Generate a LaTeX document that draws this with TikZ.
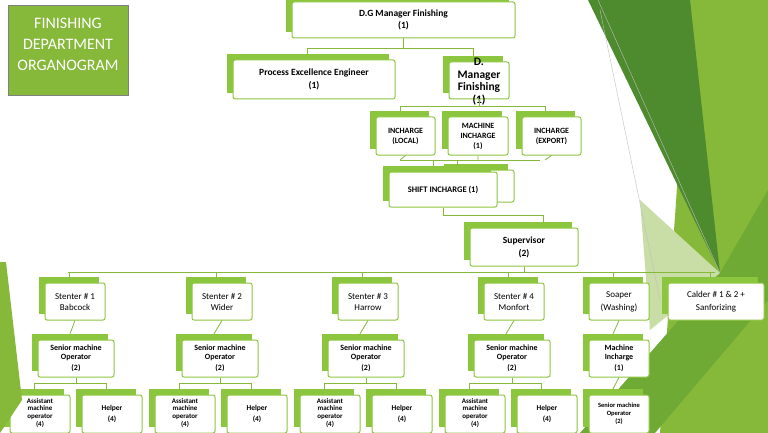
\documentclass[tikz,border=0pt]{standalone}
\usepackage{fontspec}
\setmainfont{Carlito}
\usetikzlibrary{fit}
\definecolor{lgreen}{HTML}{8CC63F}
\definecolor{dgreen}{HTML}{4E8A2E}
\definecolor{midgreen}{HTML}{6FAA35}
\definecolor{bgreen}{HTML}{86B83A}
\definecolor{pgreen}{HTML}{C9DDA6}
\tikzset{
 x=1pt,y=-1pt,
 shad/.style={fill=lgreen, inner sep=0pt, draw=none},
 box/.style={draw=lgreen, line width=1pt, fill=white, rounded corners=2pt, inner sep=0pt, align=center},
 txt/.style={draw=none, fill=none, inner sep=0pt, align=center},
 con/.style={draw=bgreen, line width=0.8pt},
 rt/.style={txt,font=\fontsize{9}{11}\selectfont}
}
\newcommand\bx[6][]{%
 \node[shad, fit={(#3-6,#4-6)(#5-6,#6-6)}] (#2s) {};
 \node[box,#1, fit={(#3,#4)(#5,#6)}] (#2) {};}
\begin{document}
\begin{tikzpicture}
\useasboundingbox (0,0) rectangle (768,433);
\fill[white] (0,0) rectangle (768,433);
% title
\node[draw=gray, fill=bgreen, text=white, align=center, font=\fontsize{16}{21}\selectfont, inner sep=0pt, fit={(8,5)(128,95)}] (title) {FINISHING\\DEPARTMENT\\ORGANOGRAM};
% boxes
\bx{dgm}{292}{2}{515}{38}
\node[txt,font=\bfseries\fontsize{9.5}{12}\selectfont] at (dgm) {D.G Manager Finishing\\(1)};
\bx{pee}{233}{60}{395}{99}
\node[txt,font=\bfseries\fontsize{9.5}{13}\selectfont] at (pee) {Process Excellence Engineer\\(1)};
\bx{dmf}{449}{62}{509}{99}
\node[txt,font=\bfseries\fontsize{11.5}{12.5}\selectfont] at ([yshift=-1]dmf) {D.\\Manager\\Finishing\\(1)};
\bx{inl}{376}{117}{435}{155}
\node[txt,font=\bfseries\fontsize{8}{10}\selectfont] at (inl) {INCHARGE\\(LOCAL)};
\bx{min}{448}{117}{508}{155}
\node[txt,font=\bfseries\fontsize{8}{10}\selectfont] at (min) {MACHINE\\INCHARGE\\(1)};
\bx{inx}{522}{117}{581}{155}
\node[txt,font=\bfseries\fontsize{8}{10}\selectfont] at (inx) {INCHARGE\\(EXPORT)};
\bx{hid}{450}{170}{514}{202}
\bx{shf}{389}{172}{497}{207}
\node[txt,font=\bfseries\fontsize{8.5}{10}\selectfont] at (shf) {SHIFT INCHARGE (1)};
\bx{sup}{470}{228}{578}{266}
\node[txt,font=\bfseries\fontsize{9.5}{13}\selectfont] at (sup) {Supervisor\\(2)};
% row 1
\bx{st1}{45}{283}{105}{320}
\node[rt] at (st1) {Stenter \# 1\\Babcock};
\bx{st2}{192}{283}{252}{320}
\node[rt] at (st2) {Stenter \# 2\\Wider};
\bx{st3}{338}{283}{398}{320}
\node[rt] at (st3) {Stenter \# 3\\Harrow};
\bx{st4}{484}{283}{544}{320}
\node[rt] at (st4) {Stenter \# 4\\Monfort};
% row 2
\foreach \n/\x in {1/38,2/182,3/328,4/474}{
 \bx{so\n}{\x}{340}{\x+76}{377}
 \node[txt,font=\bfseries\fontsize{8}{8.5}\selectfont] at (so\n) {Senior machine\\Operator\\[3pt](2)};
}
% row 3
\foreach \n/\x in {1/10,2/155,3/300,4/445}{
 \bx{as\n}{\x}{395}{\x+60}{433}
 \node[txt,font=\bfseries\fontsize{7}{7.3}\selectfont] at ([yshift=1]as\n) {Assistant\\machine\\operator\\[1pt](4)};
 \bx{he\n}{\x+72}{395}{\x+132}{433}
 \node[txt,font=\bfseries\fontsize{7.5}{9}\selectfont] at (he\n) {Helper\\[2pt](4)};
}
% background (right)
\fill[bgreen] (690,0) -- (768,0) -- (768,433) -- (660,433) -- cycle;
\fill[dgreen] (588,0) -- (690,0) -- (720,273) -- cycle;
\fill[midgreen] (720,273) -- (768,190) -- (768,300) -- (655,433) -- (580,433) -- cycle;
\fill[pgreen] (640,200) -- (720,273) -- (650,330) -- cycle;
\fill[bgreen] (0,262) -- (6,262) -- (22,400) -- (0,433) -- cycle;
\draw[gray!50, line width=0.4pt] (598,0) -- (720,273) (600,10) -- (660,300);
% right boxes
\bx{soa}{589}{283}{649}{320}
\node[rt,font=\fontsize{9}{13}\selectfont] at (soa) {Soaper\\(Washing)};
\bx{cal}{668}{283}{764}{320}
\node[rt,font=\fontsize{9}{13}\selectfont] at (cal) {Calder \# 1 \& 2 +\\Sanforizing};
\bx{mic}{589}{340}{649}{377}
\node[txt,font=\bfseries\fontsize{8}{8.5}\selectfont] at (mic) {Machine\\Incharge\\[3pt](1)};
\bx{so5}{589}{395}{649}{433}
\node[txt,font=\bfseries\fontsize{6.5}{7.5}\selectfont] at (so5) {Senior machine\\Operator\\[1pt](2)};
% connectors
\draw[con] (dgm.south) |- (307,48) -- (307,54);
\draw[con] (dgm.south) |- (473,48) -- (473,56);
\draw[con] (dmf.south) |- (400,106) -- (400,111);
\draw[con] (dmf.south) |- (545,106) -- (545,111);
\draw[con] (400,160) -- (540,160);
\draw[con] (inl.south) -- (400,160) (min.south) -- (478,160) (inx.south) -- (545,160);
\draw[con] (433,160) -- (433,166) (457,160)--(457,166);
\draw[con] (shf.south) |- (543,215) -- (543,222);
\draw[con] (sup.south) |- (68,272);
\draw[con] (sup.south) |- (715,272);
\foreach \n in {st1,st2,st3,st4,soa,cal}{ \draw[con] (\n s.north) -- (\n s.north |- 0,272); }
\foreach \n in {1,2,3,4}{
 \draw[con] (st\n.south) -- (so\n s.north);
 \draw[con] (so\n.south) |- (as\n s.north |- 0,383) -- (as\n s.north);
 \draw[con] (so\n.south) |- (he\n s.north |- 0,383) -- (he\n s.north);
}
\draw[con] (soa.south) -- (mics.north);
\draw[con] (mic.south) -- (so5s.north);
\end{tikzpicture}
\end{document}
